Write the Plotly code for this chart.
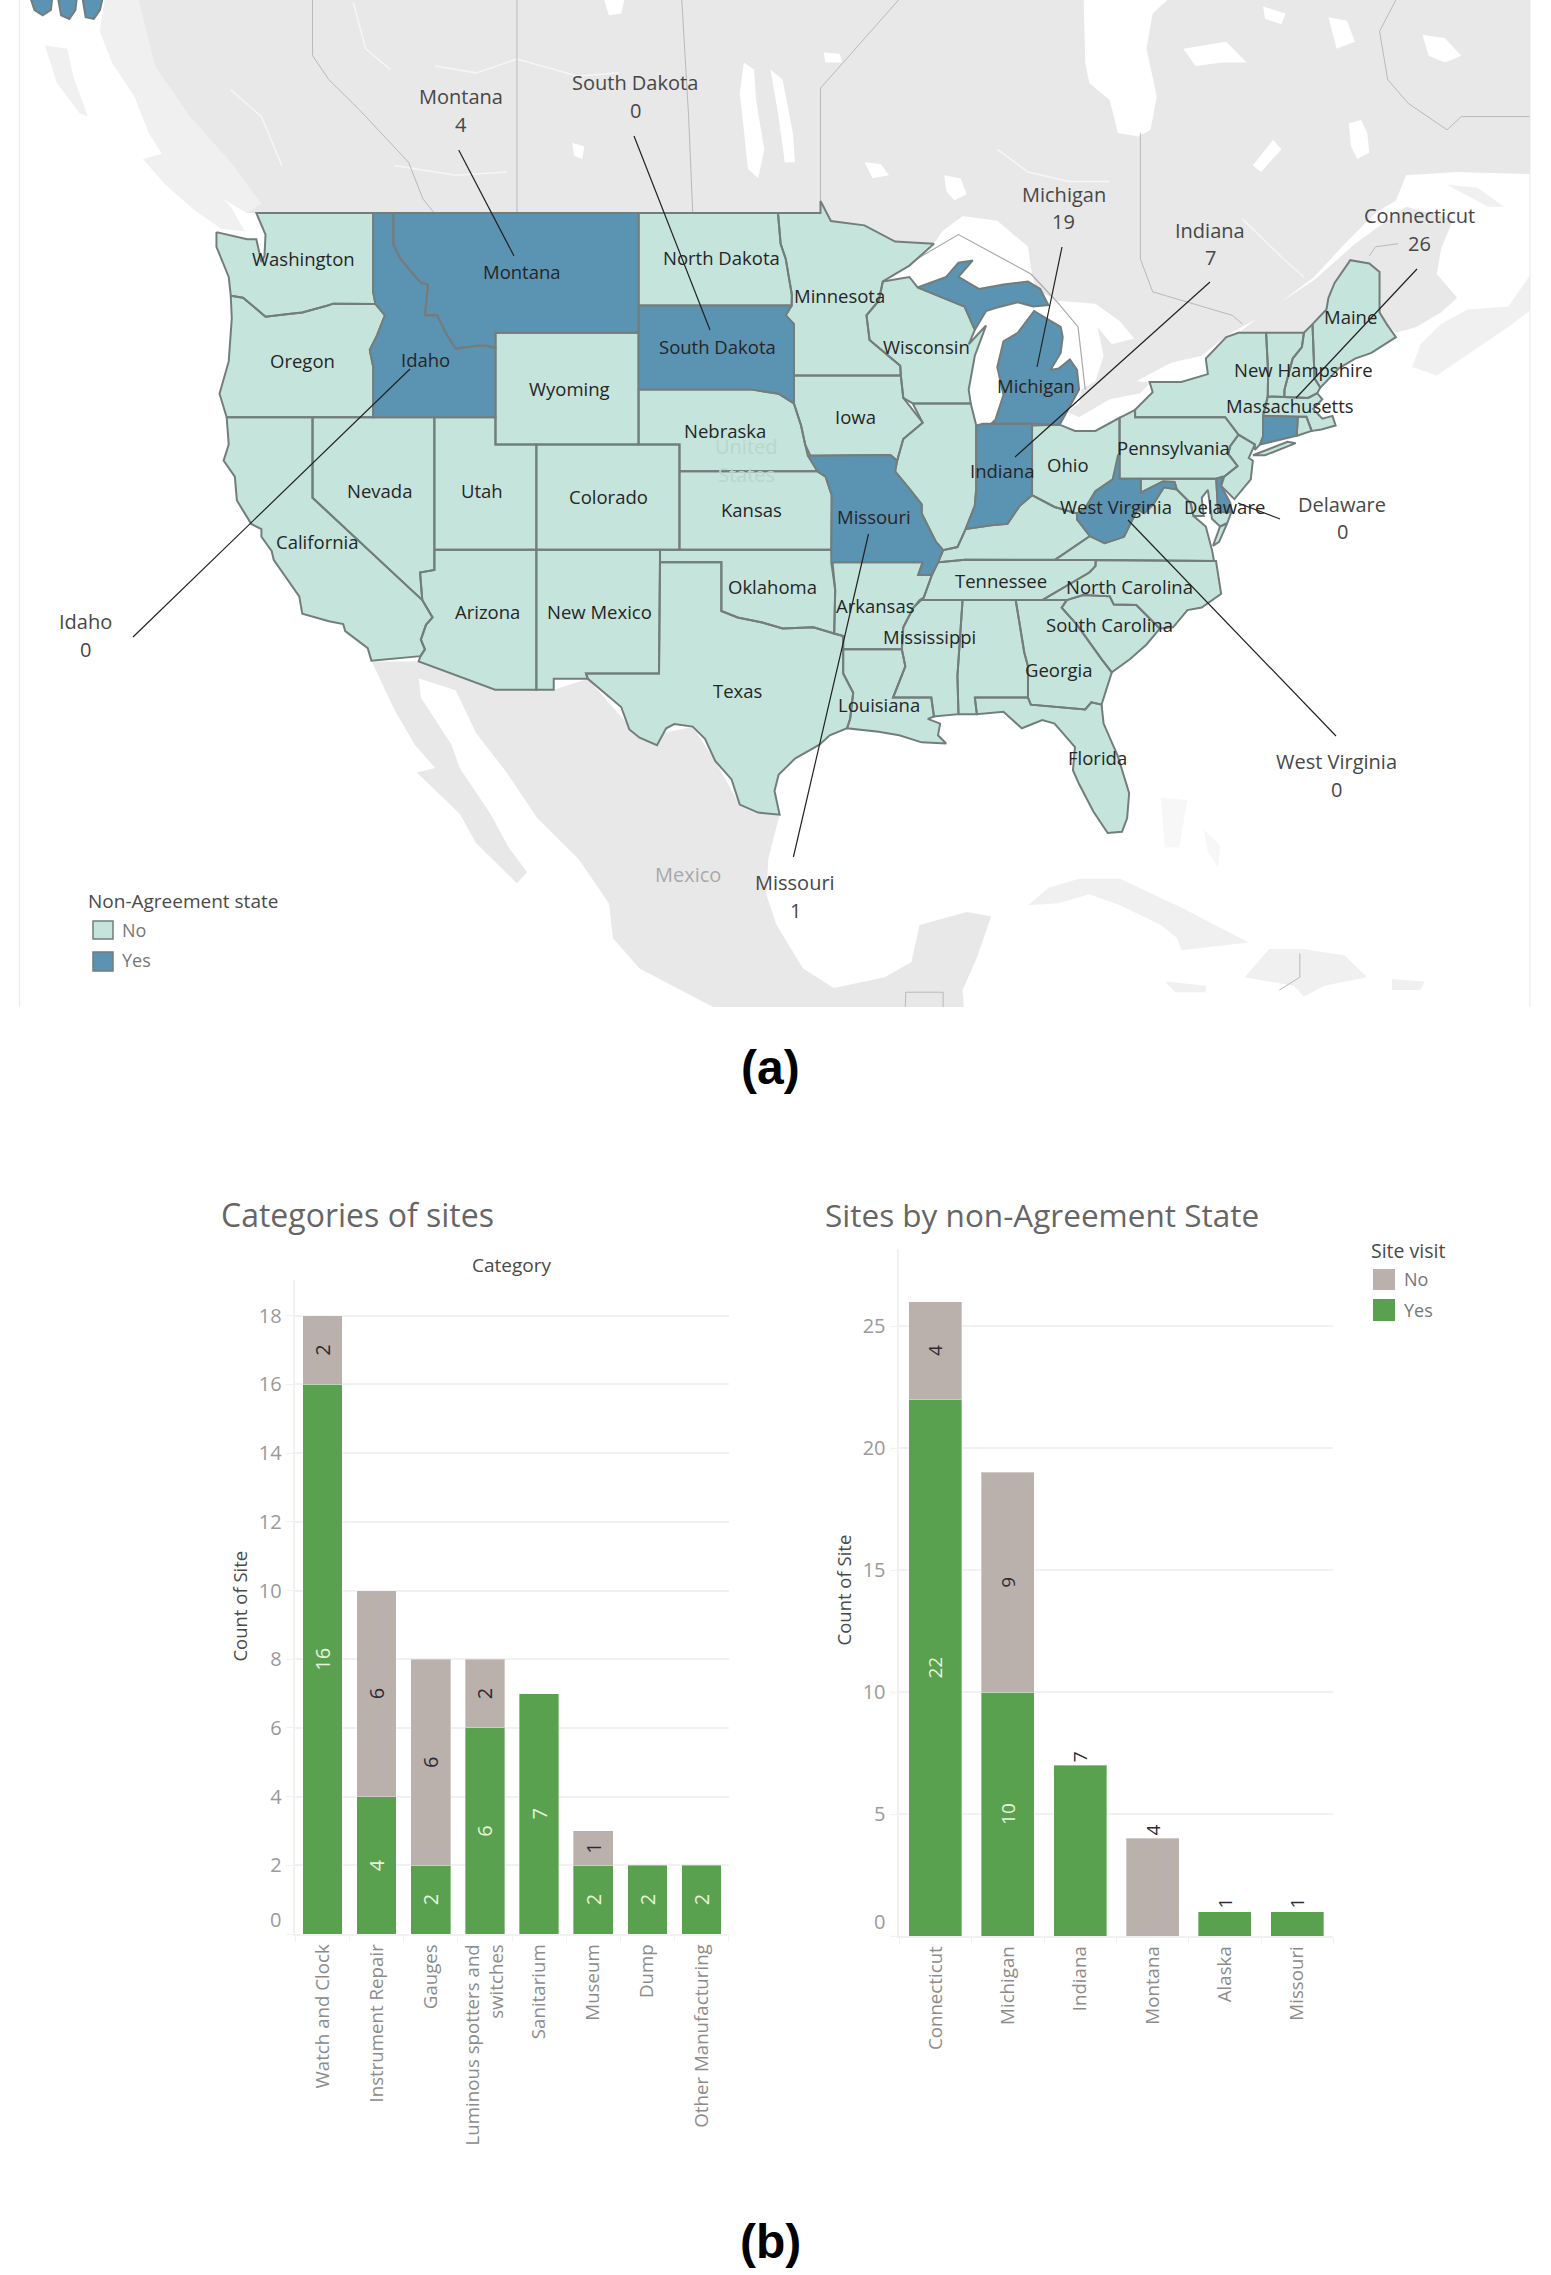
import numpy as np
import plotly.graph_objects as go

# ---------------------------------------------------------------- chart data
CATEGORIES = ["Watch and Clock", "Instrument Repair", "Gauges",
              "Luminous spotters and<br>switches", "Sanitarium", "Museum",
              "Dump", "Other Manufacturing"]
CATEGORY_VISITED = [16, 4, 2, 6, 7, 2, 2, 2]
CATEGORY_NOT_VISITED = [2, 6, 6, 2, None, 1, None, None]

SITE_STATES = ["Connecticut", "Michigan", "Indiana", "Montana", "Alaska", "Missouri"]
STATE_VISITED = [22, 10, 7, None, 1, 1]
STATE_NOT_VISITED = [4, 9, None, 4, None, None]

CALLOUT_STATES = ["Montana", "South Dakota", "Idaho", "Michigan", "Indiana",
                  "Connecticut", "Delaware", "West Virginia", "Missouri"]
CALLOUT_COUNTS = [4, 0, 0, 19, 7, 26, 0, 0, 1]

NON_AGREEMENT = ["Montana", "Idaho", "South Dakota", "Missouri", "Indiana",
                 "Michigan", "West Virginia", "Connecticut", "Delaware"]

# ---------------------------------------------------------------- geography (lon, lat)
STATES = {
    "Washington": [(-124.7,48.38),(-123.2,48.15),(-122.75,48.15),(-122.5,47.4),(-122.35,47.6),(-122.3,48.3),(-122.75,49.0),(-117.03,49.0),(-117.04,46.42),(-116.92,45.99),(-118.98,46.0),(-119.3,45.93),(-120.5,45.7),(-121.2,45.65),(-122.3,45.55),(-122.8,45.85),(-123.4,46.2),(-124.0,46.27),(-124.1,46.9),(-124.7,47.9)],
    "Oregon": [(-124.0,46.27),(-123.4,46.2),(-122.8,45.85),(-122.3,45.55),(-121.2,45.65),(-120.5,45.7),(-119.3,45.93),(-118.98,46.0),(-116.92,45.99),(-116.46,45.6),(-116.85,44.9),(-117.2,44.4),(-117.03,43.8),(-117.03,42.0),(-124.2,42.0),(-124.55,42.85),(-124.1,44.0),(-123.95,45.5)],
    "California": [(-124.2,42.0),(-120.0,42.0),(-120.0,39.0),(-114.63,35.0),(-114.13,34.3),(-114.45,34.0),(-114.7,33.4),(-114.5,33.0),(-114.72,32.72),(-117.12,32.53),(-117.3,33.05),(-118.4,33.75),(-118.5,34.03),(-119.2,34.15),(-120.5,34.45),(-120.65,35.15),(-121.9,36.6),(-122.0,36.95),(-122.5,37.5),(-122.5,37.8),(-123.0,38.0),(-123.7,38.9),(-123.8,39.8),(-124.35,40.4),(-124.1,41.0)],
    "Nevada": [(-120,42),(-114.04,42),(-114.04,36.2),(-114.74,36.1),(-114.63,35.0),(-120,39)],
    "Idaho": [(-117.03,49),(-116.05,49),(-116.05,48.0),(-115.7,47.5),(-114.7,46.7),(-114.35,46.65),(-114.5,45.6),(-113.9,45.6),(-113.45,44.95),(-113,44.45),(-112,44.55),(-111.5,44.55),(-111.05,44.47),(-111.05,42),(-117.03,42),(-117.03,43.8),(-117.2,44.4),(-116.85,44.9),(-116.46,45.6),(-116.92,45.99),(-117.04,46.42)],
    "Montana": [(-116.05,49),(-104.05,49),(-104.05,45),(-111.05,45),(-111.05,44.47),(-111.5,44.55),(-112,44.55),(-113,44.45),(-113.45,44.95),(-113.9,45.6),(-114.5,45.6),(-114.35,46.65),(-114.7,46.7),(-115.7,47.5),(-116.05,48)],
    "Wyoming": [(-111.05,45),(-104.05,45),(-104.05,41),(-111.05,41)],
    "Utah": [(-114.04,42),(-111.05,42),(-111.05,41),(-109.05,41),(-109.05,37),(-114.04,37)],
    "Colorado": [(-109.05,41),(-102.05,41),(-102.05,37),(-109.05,37)],
    "Arizona": [(-114.04,37),(-109.05,37),(-109.05,31.33),(-111.07,31.33),(-114.81,32.5),(-114.72,32.72),(-114.5,33),(-114.7,33.4),(-114.45,34),(-114.13,34.3),(-114.63,35),(-114.74,36.1),(-114.04,36.2)],
    "New Mexico": [(-109.05,37),(-103,37),(-103.05,32),(-106.62,32),(-106.53,31.78),(-108.2,31.78),(-108.2,31.33),(-109.05,31.33)],
    "North Dakota": [(-104.05,49),(-97.23,49),(-97.1,48),(-96.85,47.5),(-96.55,46.3),(-96.56,45.94),(-104.05,45.94)],
    "South Dakota": [(-104.05,45.94),(-96.56,45.94),(-96.85,45.6),(-96.45,45.3),(-96.45,42.5),(-97.2,42.85),(-98.5,43.0),(-104.05,43)],
    "Nebraska": [(-104.05,43),(-98.5,43),(-97.2,42.85),(-96.45,42.5),(-96.1,41.7),(-95.9,41.0),(-95.3,40),(-102.05,40),(-102.05,41),(-104.05,41)],
    "Kansas": [(-102.05,40),(-95.3,40),(-94.9,39.8),(-94.6,39.1),(-94.62,37),(-102.05,37)],
    "Oklahoma": [(-103,37),(-94.62,37),(-94.43,35.4),(-94.48,33.64),(-95.5,33.9),(-97,33.85),(-98,34.1),(-99.2,34.3),(-100,34.56),(-100,36.5),(-103,36.5)],
    "Texas": [(-103,36.5),(-100,36.5),(-100,34.56),(-99.2,34.3),(-98,34.1),(-97,33.85),(-95.5,33.9),(-94.48,33.64),(-94.04,33.55),(-94.04,33),(-94.04,32),(-93.55,31.2),(-93.7,30.1),(-93.85,29.7),(-94.7,29.4),(-95.2,29),(-96.4,28.4),(-97.2,27.7),(-97.4,27),(-97.15,25.96),(-98.2,26.05),(-99.1,26.4),(-99.5,27.5),(-100.3,28.3),(-100.8,29.25),(-101.4,29.77),(-102.3,29.88),(-102.7,29.7),(-103.15,28.98),(-104.0,29.3),(-104.5,29.65),(-104.9,30.6),(-106.53,31.78),(-106.62,32),(-103.05,32)],
    "Minnesota": [(-97.23,49),(-95.15,49),(-95.15,49.38),(-94.64,48.74),(-93,48.6),(-91.5,48.07),(-89.6,48.0),(-90.8,47.28),(-92.1,46.75),(-92.3,46.1),(-92.9,45.6),(-92.75,44.75),(-91.25,43.85),(-91.22,43.5),(-96.45,43.5),(-96.45,45.3),(-96.85,45.6),(-96.56,45.94),(-96.55,46.3),(-96.85,47.5),(-97.1,48)],
    "Iowa": [(-96.45,43.5),(-91.22,43.5),(-91.1,42.7),(-90.15,41.8),(-91.1,41.2),(-91.4,40.4),(-91.73,40.61),(-95.77,40.58),(-95.9,41),(-96.1,41.7),(-96.45,42.5)],
    "Missouri": [(-95.77,40.58),(-91.73,40.61),(-91.4,40.4),(-91.5,40),(-90.75,39.3),(-90.2,38.75),(-90.2,38.4),(-89.5,37.3),(-89.15,36.98),(-89.4,36.5),(-89.7,36.0),(-90.37,36.0),(-90.15,36.5),(-94.62,36.5),(-94.62,37),(-94.6,39.1),(-94.9,39.8),(-95.3,40)],
    "Arkansas": [(-94.62,36.5),(-90.15,36.5),(-90.37,36.0),(-89.7,36.0),(-90.1,35.1),(-90.6,34.7),(-91.1,33.9),(-91.17,33.0),(-94.04,33),(-94.04,33.55),(-94.48,33.64),(-94.43,35.4)],
    "Louisiana": [(-94.04,33),(-91.17,33),(-91.0,32.3),(-91.6,31.0),(-89.73,31),(-89.6,30.2),(-89.9,30.1),(-89.3,29.9),(-89.4,29.4),(-89,29.05),(-90.2,29.1),(-91.3,29.4),(-92.3,29.55),(-93.85,29.7),(-93.7,30.1),(-93.55,31.2),(-94.04,32)],
    "Wisconsin": [(-92.1,46.75),(-90.8,46.9),(-90.4,46.55),(-88.1,45.9),(-87.6,45.1),(-87.9,44.6),(-87.05,45.25),(-87.6,44.2),(-87.9,43),(-87.8,42.5),(-90.64,42.5),(-91.1,42.7),(-91.22,43.5),(-91.25,43.85),(-92.75,44.75),(-92.9,45.6),(-92.3,46.1)],
    "Illinois": [(-90.64,42.5),(-87.8,42.5),(-87.53,41.7),(-87.53,39.35),(-87.6,38.7),(-88.05,37.8),(-88.45,37.1),(-89.15,36.98),(-89.5,37.3),(-90.2,38.4),(-90.2,38.75),(-90.75,39.3),(-91.5,40),(-91.4,40.4),(-91.1,41.2),(-90.15,41.8)],
    "Indiana": [(-87.53,41.7),(-87.2,41.76),(-84.8,41.76),(-84.8,39.1),(-85.4,38.7),(-86,38),(-86.8,37.95),(-88.05,37.8),(-87.6,38.7),(-87.53,39.35)],
    "Ohio": [(-84.8,41.7),(-83.45,41.73),(-82.7,41.5),(-81.7,41.5),(-80.52,41.98),(-80.52,40.64),(-80.85,39.7),(-81.7,39.25),(-82.2,38.6),(-82.6,38.4),(-83.7,38.65),(-84.8,39.1)],
    "Kentucky": [(-89.15,36.98),(-88.45,37.1),(-88.05,37.8),(-86.8,37.95),(-86,38),(-85.4,38.7),(-84.8,39.1),(-83.7,38.65),(-82.6,38.4),(-82.6,38.17),(-81.97,37.53),(-83.68,36.6),(-88.07,36.6),(-89.4,36.5)],
    "Tennessee": [(-89.7,36),(-89.4,36.5),(-88.07,36.6),(-83.68,36.6),(-81.68,36.59),(-81.7,36.35),(-82,36.1),(-84.3,35.0),(-90.3,35),(-90.1,35.1)],
    "Mississippi": [(-91.17,33),(-91.1,33.9),(-90.6,34.7),(-90.3,35),(-88.2,35),(-88.45,31.9),(-88.4,30.3),(-89.6,30.2),(-89.73,31),(-91.6,31),(-91,32.3)],
    "Alabama": [(-88.2,35),(-85.6,35),(-85.18,32.87),(-85,32.3),(-85,31),(-87.6,31),(-87.5,30.3),(-88.4,30.3),(-88.45,31.9)],
    "Georgia": [(-85.6,35),(-83.1,35),(-83.35,34.7),(-82.6,34),(-81.4,32.6),(-80.9,32.05),(-81.4,30.7),(-81.9,30.8),(-82.2,30.5),(-84.86,30.7),(-85,31),(-85,32.3),(-85.18,32.87)],
    "Florida": [(-87.6,31),(-85,31),(-84.86,30.7),(-82.2,30.5),(-81.9,30.8),(-81.4,30.7),(-81.3,29.9),(-80.6,28.5),(-80.05,26.9),(-80.15,25.8),(-80.4,25.2),(-81.1,25.15),(-81.8,26.1),(-82.5,27.3),(-82.8,27.9),(-82.7,28.9),(-83.7,29.9),(-84.3,30.05),(-85.3,29.7),(-86.2,30.4),(-87.5,30.3)],
    "South Carolina": [(-83.1,35),(-82.3,35.2),(-81,35.15),(-80.8,34.82),(-79.7,34.8),(-78.55,33.85),(-79.2,33.2),(-80.0,32.6),(-80.9,32.05),(-81.4,32.6),(-82.6,34),(-83.35,34.7)],
    "North Carolina": [(-84.3,35),(-83.1,35),(-82.3,35.2),(-81,35.15),(-80.8,34.82),(-79.7,34.8),(-78.55,33.85),(-77.9,33.9),(-77.2,34.6),(-76.5,34.7),(-75.55,35.25),(-75.8,36.55),(-81.68,36.59),(-81.7,36.35),(-82,36.1)],
    "Virginia": [(-83.68,36.6),(-81.68,36.59),(-75.9,36.55),(-76,37),(-76.3,37.9),(-76.9,38.3),(-77.05,38.8),(-77.72,39.32),(-78.35,39.4),(-78.87,38.76),(-79.3,38.42),(-79.65,38.55),(-80.3,37.5),(-81.25,37.25),(-81.97,37.53)],
    "Virginia Eastern Shore": [(-75.95,37.15),(-75.6,37.9),(-75.25,38.03),(-75.65,37.3)],
    "West Virginia": [(-82.6,38.17),(-82.6,38.4),(-82.2,38.6),(-81.7,39.25),(-80.85,39.7),(-80.6,40.6),(-80.52,40.64),(-80.52,39.72),(-79.48,39.72),(-79.48,39.2),(-78.4,39.62),(-77.83,39.6),(-77.72,39.32),(-78.35,39.4),(-78.87,38.76),(-79.3,38.42),(-79.65,38.55),(-80.3,37.5),(-81.25,37.25),(-81.97,37.53)],
    "Maryland": [(-79.48,39.72),(-75.79,39.72),(-75.7,38.46),(-75.05,38.45),(-75.25,38.03),(-75.6,37.9),(-76.0,38.2),(-76.2,39.3),(-76.5,39),(-76.4,38.3),(-76.9,38.3),(-77.05,38.8),(-77.72,39.32),(-77.83,39.6),(-78.4,39.62),(-79.48,39.2)],
    "Delaware": [(-75.79,39.72),(-75.5,39.8),(-75.55,39.45),(-75.1,38.8),(-75.05,38.45),(-75.7,38.46)],
    "Pennsylvania": [(-80.52,41.98),(-79.76,42.27),(-79.76,42),(-75.35,42),(-74.7,41.36),(-75.1,40.95),(-75.2,40.65),(-74.75,40.2),(-75.4,39.8),(-75.79,39.72),(-80.52,39.72)],
    "New Jersey": [(-74.7,41.36),(-73.9,41.0),(-74.2,40.5),(-74.0,40.4),(-74.1,39.7),(-74.9,38.95),(-75.55,39.45),(-75.4,39.8),(-74.75,40.2),(-75.2,40.65),(-75.1,40.95)],
    "New York": [(-79.76,42.27),(-78.9,42.9),(-79.05,43.27),(-77.5,43.27),(-76.2,43.55),(-76.3,44.1),(-75.3,44.85),(-74.7,45),(-73.35,45),(-73.25,43.6),(-73.27,42.75),(-73.5,42.05),(-73.5,41.3),(-73.65,41),(-73.9,40.8),(-73.9,41),(-74.7,41.36),(-75.35,42),(-79.76,42)],
    "Long Island": [(-74,40.6),(-72.3,41.1),(-71.9,41.05),(-73.4,40.6)],
    "Vermont": [(-73.35,45),(-71.5,45.0),(-71.6,44.5),(-72.05,44.1),(-72.45,43),(-72.46,42.73),(-73.27,42.75),(-73.25,43.6)],
    "New Hampshire": [(-71.5,45.0),(-71.08,45.3),(-70.98,43.4),(-70.7,43.07),(-70.85,42.87),(-71.3,42.7),(-72.46,42.73),(-72.45,43),(-72.05,44.1),(-71.6,44.5)],
    "Maine": [(-71.08,45.3),(-70.4,45.8),(-70.3,46.2),(-70,46.7),(-69.23,47.46),(-68.3,47.35),(-67.8,47.07),(-67.8,45.7),(-67.45,45.3),(-67,44.85),(-68.2,44.3),(-69,44.1),(-69.8,43.75),(-70.7,43.07),(-70.98,43.4)],
    "Massachusetts": [(-73.5,42.05),(-73.27,42.75),(-72.46,42.73),(-71.3,42.7),(-70.85,42.87),(-70.6,42.65),(-71.05,42.3),(-70.6,41.95),(-70.1,42.05),(-69.95,41.7),(-70.65,41.55),(-71.12,41.5),(-71.38,42.02),(-71.8,42.02)],
    "Rhode Island": [(-71.8,42.02),(-71.38,42.02),(-71.12,41.5),(-71.85,41.32)],
    "Connecticut": [(-73.5,42.05),(-71.8,42.02),(-71.85,41.32),(-73.65,41),(-73.5,41.3)],
    "Michigan": [(-86.8,41.76),(-84.8,41.76),(-83.45,41.73),(-83.1,42.2),(-82.5,43),(-82.6,43.7),(-82.95,44.07),(-83.5,43.75),(-83.9,43.7),(-83.4,44.3),(-83.3,44.85),(-83.4,45.2),(-84.7,45.75),(-85.5,45),(-86.2,44.7),(-86.5,43.8),(-86.2,42.8),(-86.6,41.9)],
    "Michigan Upper Peninsula": [(-90.4,46.55),(-89.0,46.9),(-88.4,47.38),(-87.7,47.45),(-88.4,46.9),(-87.4,46.5),(-86.2,46.65),(-85,46.75),(-84.4,46.5),(-84,45.95),(-84.75,45.9),(-85.5,46.05),(-86.6,45.85),(-87.05,45.75),(-87.6,45.1),(-88.1,45.9)],
}

ALASKA_ISLANDS = [
    [(-133.9,55.6),(-133.6,55.1),(-133.2,54.95),(-132.8,55.1),(-132.7,55.6)],
    [(-132.5,55.6),(-132.3,54.95),(-131.9,54.85),(-131.6,55.1),(-131.5,55.6)],
    [(-131.3,55.6),(-131.1,54.9),(-130.7,54.85),(-130.4,55.1),(-130.2,55.6)],
]

NEIGHBOUR_LAND = [
    # western Canada, the Ontario peninsula and the north shore of the St Lawrence
    [(-123.2,49.0),(-95.15,49.0),(-95.15,49.38),(-94.64,48.74),(-93,48.6),(-91.5,48.07),(-89.6,48.0),(-89.2,48.4),(-88.2,48.9),(-86.5,48.75),(-85,47.9),(-84.8,47),(-84.6,46.5),(-83.6,46.1),(-81.7,46.0),(-80.5,45.4),(-79.8,44.8),(-80.9,44.6),(-81.6,45.2),(-81.3,44.2),(-81.7,43.3),(-82.4,43.0),(-82.5,42.5),(-83.1,42.2),(-82.5,42),(-81,42.65),(-79.5,42.87),(-79.0,43.25),(-79.7,43.3),(-78,43.95),(-76.5,44.2),(-75.3,44.9),(-73.5,45.6),(-71,46.9),(-69.5,48),(-68,49),(-67,49.4),(-66.5,50.2),(-64,50.3),(-59,50.2),(-59,57),(-130.1,57),(-130.1,55.6),(-130.4,54.5),(-129.8,53.6),(-128.7,52.6),(-128,51.5),(-127.3,50.8),(-125.5,50),(-124.5,49.5)],
    # south shore of the St Lawrence and New Brunswick
    [(-74.7,45),(-71.5,45),(-71.08,45.3),(-70.4,45.8),(-70.3,46.2),(-70,46.7),(-69.23,47.46),(-68.3,47.35),(-67.8,47.07),(-67.8,45.7),(-67.45,45.3),(-67,45),(-66,45.2),(-64.8,45.7),(-64,46.2),(-65,47),(-64.8,47.8),(-64.2,48.8),(-66.5,49.2),(-69,48),(-71,46.8),(-73.5,45.65)],
    # Mexico and Central America
    [(-117.1,32.5),(-116,30.5),(-115,29),(-114,28),(-114.9,27.8),(-112.8,26),(-112,24.7),(-110,22.9),(-109.5,23.4),(-110.4,24.5),(-111.3,26),(-112.8,28),(-113.2,29),(-114.7,31),(-114.8,31.8),(-113,31.3),(-112,29.5),(-110.5,27.8),(-109,25.8),(-107,24),(-105.5,22),(-105.3,20.4),(-104,19),(-102,18),(-100,17),(-98,16),(-94.5,16),(-90,14),(-88,15.5),(-88.2,18),(-87.5,19.5),(-86.8,21.4),(-88,21.6),(-90.3,21),(-90.7,19.3),(-92,18.6),(-94.5,18.1),(-96,19),(-97.3,21),(-97.8,22.4),(-97.7,24),(-97.15,25.96),(-99.1,26.4),(-100.3,28.3),(-101.4,29.77),(-104,29.3),(-106.53,31.78),(-108.2,31.33),(-111.07,31.33),(-114.81,32.5)],
]

# the outer coast and islands read paler than the interior
PALE_LAND = [
    [(-130.1,55.6),(-128.6,55.6),(-127.7,53.5),(-126,52),(-124,50.6),(-122.5,49.3),(-123.2,49),(-124.5,49.5),(-125.5,50),(-127.3,50.8),(-128,51.5),(-128.7,52.6),(-129.8,53.6),(-130.4,54.5)],
    [(-133.1,54.1),(-132,54.0),(-131.7,53.2),(-131,52),(-131.4,52.1),(-132.5,53)],
    [(-128.3,50.7),(-127.2,50.9),(-125.5,50.2),(-124,49.2),(-123.3,48.4),(-124.5,48.5),(-125.8,49.1),(-127.2,49.9)],
    [(-66.2,43.8),(-65,43.5),(-61.5,45.2),(-60,46),(-60.4,47),(-61.5,45.9),(-63.5,45.8),(-64.8,45.3),(-65.8,44.6)],
    [(-64.5,49.9),(-63,49.8),(-61.7,49.2),(-62.5,49.2)],
    [(-59.3,47.6),(-59,48.5),(-58,50),(-56,51.5),(-55,50),(-53,47),(-55,46.8)],
    [(-85,21.9),(-84,22.7),(-82.5,23.1),(-80.5,23.1),(-77.5,21.8),(-75,20.6),(-74.2,20.2),(-77.5,19.85),(-77.7,20.4),(-78.5,21),(-80.5,21.9),(-82,22.4),(-83.5,22)],
    [(-74.4,18.6),(-73.2,19.9),(-71.5,19.9),(-69.5,19.6),(-68.4,18.6),(-70.5,18.2),(-71.5,17.7),(-72,18.2)],
    [(-78.3,18.4),(-76.3,18.2),(-76.3,17.9),(-77.8,17.9)],
    [(-67.2,18.5),(-65.6,18.4),(-65.8,18),(-67.2,18)],
]

FAINT_LAND = [
    [(-78.5,26.7),(-77.2,26.6),(-77.6,24.5),(-78.3,24.5)],
    [(-76.4,25.3),(-75.6,24.6),(-75.7,23.6),(-76.2,24.3)],
]

INLAND_WATER = [
    [(-82.3,56),(-82.2,53.6),(-82,53),(-81,52.5),(-80.6,51.5),(-79.6,51.4),(-79,51.6),(-78.7,52.6),(-79.2,54),(-78.9,55),(-77,56)],
    [(-98.9,53.6),(-98.4,53.4),(-98.3,52.5),(-97.9,51),(-98.2,50.1),(-98.7,50.4),(-98.9,51.6),(-99.1,52.7)],
    [(-97.6,53.4),(-97,53.1),(-96.5,51.5),(-96.4,50.6),(-96.9,50.6),(-97.2,52)],
    [(-89.1,50.2),(-88.3,50.1),(-88,49.6),(-88.6,49.4),(-89,49.7)],
    [(-73,51.3),(-72.6,51),(-73.6,50.3),(-74,50.5)],
    [(-69.3,51.8),(-68.7,51.9),(-68.4,51.5),(-68.3,50.9),(-68.9,50.7),(-69.2,51.1)],
    [(-77.4,54),(-75.3,54.2),(-74.3,53.6),(-75.5,53.6),(-76.8,53.5)],
    [(-73.5,55.2),(-72.4,55),(-72.6,54.7),(-73.4,54.85)],
    [(-70.3,54.9),(-69.4,54.8),(-69,54.2),(-69.9,54)],
    [(-65.7,54.4),(-64.6,54.3),(-63.8,53.8),(-64.6,53.6),(-65.4,53.8)],
    [(-95,53.9),(-94.2,53.85),(-94.1,53.6),(-94.9,53.6)],
    [(-93,50.6),(-92.2,50.55),(-91.8,50.2),(-92.6,50.1)],
    [(-107.3,51.2),(-106.7,51.1),(-106.8,50.7),(-107.2,50.8)],
    [(-105.8,55.5),(-104.7,55.5),(-104.9,55),(-105.5,54.95)],
]

WHITE_RIVERS = [
    [(-114,53.5),(-112,53.3),(-110,53.7),(-107,53.2),(-105,53.3)],
    [(-116,50.5),(-113,50.2),(-110.5,50.3)],
    [(-118,55.3),(-117.4,54),(-116.2,53.4)],
    [(-124,52.8),(-122.5,52),(-121.5,50.5)],
    [(-86.5,51),(-85,50.3),(-83,50),(-81,50)],
    [(-74.5,48.8),(-72.5,47.5),(-71.5,46.9)],
]

PROVINCE_LINES = [
    [(-120,56),(-120,53.8),(-119.2,53.1),(-117.7,52.2),(-115.3,50.6),(-114.6,49.45),(-114.05,49)],
    [(-110,56),(-110,49)],
    [(-102,56),(-101.6,52),(-101.4,49)],
    [(-89,56.85),(-95.15,52.85),(-95.15,49.38)],
    [(-79.5,51.5),(-79.5,47.5),(-78.9,46.4),(-77,46),(-75,45.6),(-74.5,45.3)],
    [(-66.8,55.6),(-67.8,54.5),(-67.4,53.1),(-66.4,52.4),(-64.5,51.6),(-63.8,52),(-59,52)],
    [(-66.9,48),(-68,47.9),(-68.3,47.6)],
    [(-72.7,18),(-71.7,18.6),(-71.7,19.7)],
    [(-89.15,17.2),(-89.15,17.9),(-90.98,17.9),(-91,17.2)],
]

WATER_BOUNDARY = [(-92.05,46.86),(-88.4,48.3),(-84.85,47),(-83.5,46),(-82.55,45.2),(-82.2,43)]

# ---------------------------------------------------------------- page layout
W, H = 1551, 2275
MAP_LEFT, MAP_RIGHT, MAP_BOTTOM = 19.4, 1530, 1007
MAP_LON_RANGE = [-134.34, -60.44]
MAP_LAT_RANGE = [17.21, 55.38]

MAP_LABEL_ANCHORS = {
    "Washington": (303.5,260), "Oregon": (302,362), "Montana": (522,273), "Idaho": (425,361),
    "Wyoming": (569,390), "North Dakota": (721,259), "South Dakota": (717,348), "Nebraska": (725,432),
    "Nevada": (379,492), "Utah": (482,492), "Colorado": (608,498), "Kansas": (751,511),
    "California": (317,543), "Arizona": (487,613), "New Mexico": (599,613), "Oklahoma": (772,588),
    "Texas": (737,692), "Minnesota": (839,297), "Wisconsin": (926,348), "Michigan": (1036,387),
    "Iowa": (855,418), "Indiana": (1002,472), "Ohio": (1067.5,466), "Pennsylvania": (1173,449),
    "New Hampshire": (1303,371), "Maine": (1350,318), "Massachusetts": (1290,407),
    "West Virginia": (1116,508), "Delaware": (1224,508), "Missouri": (873.5,518),
    "Arkansas": (875.5,607), "Tennessee": (1001,582), "North Carolina": (1129,588),
    "South Carolina": (1109,626), "Mississippi": (930,638), "Georgia": (1059,671),
    "Louisiana": (878.5,706), "Florida": (1097,759),
}
CALLOUT_ANCHORS = {
    "Montana": (461,98,126), "South Dakota": (635,84,112), "Idaho": (85.6,623,651),
    "Michigan": (1063.5,196,223), "Indiana": (1210,232,259), "Connecticut": (1419,217,245),
    "Delaware": (1342,506,533), "West Virginia": (1336,763,791), "Missouri": (795,884,912),
}
LEADER_ENDS = {
    "Montana": ((458.7,150),(514,256)), "South Dakota": ((634,136),(710,330)),
    "Idaho": ((410,369),(133,637)), "Michigan": ((1062,247),(1037,367)),
    "Indiana": ((1210,282),(1015,457)), "Connecticut": ((1417,269),(1296,398)),
    "Delaware": ((1238,503),(1280,519)), "West Virginia": ((1128,520),(1336,736)),
    "Missouri": ((868.5,534),(793.4,857)),
}

COL_NO, COL_YES = "#c5e4dc", "#5b93b3"
COL_BORDER = "#737e7c"
COL_LAND, COL_PALE, COL_FAINT = "#e8e8e8", "#f0f0f0", "#f7f7f7"
COL_VISIT, COL_NOVISIT = "#59a14f", "#bab0ac"
SANS = "Open Sans, sans-serif"


def fx(x):
    return x / W


def fy(y):
    return 1 - y / H


def merc(lat):
    return np.degrees(np.arcsinh(np.tan(np.radians(lat))))


def ring_xy(rings):
    """Flatten closed lon/lat rings to projected x, y lists with None breaks."""
    xs, ys = [], []
    for ring in rings:
        pts = list(ring) + [ring[0]]
        xs += [p[0] for p in pts] + [None]
        ys += [float(merc(p[1])) for p in pts] + [None]
    return xs, ys


def line_xy(paths):
    xs, ys = [], []
    for path in paths:
        xs += [p[0] for p in path] + [None]
        ys += [float(merc(p[1])) for p in path] + [None]
    return xs, ys


def map_trace(x, y, fill=None, line=None, width=0):
    return go.Scatter(
        x=x, y=y, mode="lines", xaxis="x3", yaxis="y3", hoverinfo="skip",
        showlegend=False, fill="toself" if fill else "none", fillcolor=fill,
        line=dict(color=line or "rgba(0,0,0,0)", width=width),
    )


fig = go.Figure()

# ---------------------------------------------------------------- map layers
fig.add_trace(map_trace(*ring_xy(NEIGHBOUR_LAND), fill=COL_LAND))
fig.add_trace(map_trace(*ring_xy(PALE_LAND), fill=COL_PALE))
fig.add_trace(map_trace(*ring_xy(FAINT_LAND), fill=COL_FAINT))
fig.add_trace(map_trace(*ring_xy(INLAND_WATER), fill="#ffffff"))
fig.add_trace(map_trace(*line_xy(WHITE_RIVERS), line="#f6f6f6", width=1.5))
fig.add_trace(map_trace(*line_xy(PROVINCE_LINES), line="#b9b9b9", width=1))
fig.add_trace(map_trace(*line_xy([WATER_BOUNDARY]), line="#a8a8a8", width=1.2))

yes_names = set(NON_AGREEMENT) | {"Michigan Upper Peninsula"}
fig.add_trace(map_trace(*ring_xy([v for k, v in STATES.items() if k not in yes_names]),
                        fill=COL_NO, line=COL_BORDER, width=2))
fig.add_trace(map_trace(*ring_xy([v for k, v in STATES.items() if k in yes_names] + ALASKA_ISLANDS),
                        fill=COL_YES, line=COL_BORDER, width=2))

# ---------------------------------------------------------------- bar panels


def bar_panel(cats, yes, no, xa, ya, text_size, outside_yes=(), outside_no=()):
    for vals, color, tcolor, name, outside in (
        (yes, COL_VISIT, "#e6f4dc", "Yes", outside_yes),
        (no, COL_NOVISIT, "#2f2a33", "No", outside_no),
    ):
        positions = ["outside" if i in outside else "inside" for i in range(len(cats))]
        colors = ["#2f2a33" if i in outside else tcolor for i in range(len(cats))]
        fig.add_trace(go.Bar(
            x=cats, y=vals, name=name, xaxis=xa, yaxis=ya, showlegend=False,
            marker=dict(color=color, line=dict(color="rgba(255,255,255,0.35)", width=1)),
            text=[None if v is None else str(v) for v in vals],
            textposition=positions, textangle=-90, insidetextanchor="middle",
            textfont=dict(family=SANS, size=text_size, color=colors),
            constraintext="none", cliponaxis=False, hoverinfo="skip",
        ))


bar_panel(CATEGORIES, CATEGORY_VISITED, CATEGORY_NOT_VISITED, "x", "y", 20)
bar_panel(SITE_STATES, STATE_VISITED, STATE_NOT_VISITED, "x2", "y2", 19,
          outside_yes=(2, 4, 5), outside_no=(3,))

GRID = "#f1f1f1"
TICK_FONT = dict(family=SANS, size=20, color="#9a9a9a")
CAT_FONT = dict(family=SANS, size=18.7, color="#8c8c8c")
VALUE_AXIS_TOP = {"x": 19.04, "x2": 28.16}


def cat_axis(domain, anchor):
    return dict(domain=[fx(domain[0]), fx(domain[1])], anchor=anchor, type="category",
                tickangle=-90, tickfont=CAT_FONT, ticks="outside", ticklen=6, tickcolor=GRID,
                tickson="boundaries", showline=True, linecolor=GRID, linewidth=1.5,
                showgrid=False, zeroline=False, ticklabelstandoff=1)


def val_axis(bottom, top, vmax, step, anchor):
    vals = list(range(0, vmax + 1, step))
    return dict(domain=[fy(bottom), fy(top)], anchor=anchor, range=[0, VALUE_AXIS_TOP[anchor]],
                tickvals=vals, ticktext=[""] + [str(v) for v in vals[1:]], tickfont=TICK_FONT,
                ticks="outside", ticklen=8, tickcolor=GRID, showline=True, linecolor=GRID,
                linewidth=1.5, showgrid=True, gridcolor=GRID, gridwidth=1.5, zeroline=False)


layout = dict(
    width=W, height=H, margin=dict(l=0, r=0, t=0, b=0), autosize=False,
    paper_bgcolor="#ffffff", plot_bgcolor="rgba(0,0,0,0)", barmode="stack", bargap=0.267,
    font=dict(family=SANS),
    xaxis=cat_axis((295.4, 728.6), "y"), yaxis=val_axis(1934, 1280, 18, 2, "x"),
    xaxis2=cat_axis((899.3, 1333.4), "y2"), yaxis2=val_axis(1936, 1249, 25, 5, "x2"),
    xaxis3=dict(domain=[fx(MAP_LEFT), fx(MAP_RIGHT)], range=MAP_LON_RANGE, anchor="y3",
                visible=False, fixedrange=True),
    yaxis3=dict(domain=[fy(MAP_BOTTOM), 1], range=[float(merc(MAP_LAT_RANGE[0])), float(merc(MAP_LAT_RANGE[1]))],
                anchor="x3", visible=False, fixedrange=True),
)

# ---------------------------------------------------------------- text and leaders
notes, shapes = [], []


def note(x, y, text, size, color, family=SANS, anchor="center", angle=0, bold=False):
    lift = 1.5 if family == SANS and angle == 0 else 0
    notes.append(dict(
        x=fx(x), y=fy(y - lift), xref="paper", yref="paper", text=f"<b>{text}</b>" if bold else text,
        showarrow=False, xanchor=anchor, yanchor="middle", textangle=angle,
        font=dict(family=family, size=size, color=color),
    ))


def box(x0, y0, x1, y1, fill, line=None):
    shapes.append(dict(type="rect", xref="paper", yref="paper",
                       x0=fx(x0), x1=fx(x1), y0=fy(y0), y1=fy(y1), fillcolor=fill,
                       line=dict(color=line or fill, width=1.5 if line else 0)))


# faint frame either side of the map
for x in (MAP_LEFT, MAP_RIGHT):
    shapes.append(dict(type="line", xref="paper", yref="paper", x0=fx(x), x1=fx(x),
                       y0=fy(0), y1=fy(MAP_BOTTOM), line=dict(color="#e9e9e9", width=1)))

for name, (p0, p1) in LEADER_ENDS.items():
    shapes.append(dict(type="line", xref="paper", yref="paper", x0=fx(p0[0]), y0=fy(p0[1]),
                       x1=fx(p1[0]), y1=fy(p1[1]), line=dict(color="#222222", width=1.2)))

for name, (x, y) in MAP_LABEL_ANCHORS.items():
    note(x, y, name, 18.5, "#262626")

note(746, 448, "United", 20, "#b5d8ce")
note(746, 476, "States", 20, "#b5d8ce")
note(687.5, 876, "Mexico", 20, "#a8a8a8")

for name, count in zip(CALLOUT_STATES, CALLOUT_COUNTS):
    x, y_name, y_count = CALLOUT_ANCHORS[name]
    note(x, y_name, name, 20, "#474747")
    note(x, y_count, str(count), 20, "#474747")

note(86, 903, "Non-Agreement state", 19, "#4a4a4a", anchor="left")
box(93, 921, 113, 939, COL_NO, COL_BORDER)
box(93, 952, 113, 971, COL_YES, COL_BORDER)
note(120, 931, "No", 18, "#777777", anchor="left")
note(120, 962, "Yes", 18, "#777777", anchor="left")

LIB_BOLD = "Liberation Sans, Arial, sans-serif"
note(770, 1067, "(a)", 48, "#000000", family=LIB_BOLD, bold=True)
note(770, 2241, "(b)", 48, "#000000", family=LIB_BOLD, bold=True)

note(219, 1216, "Categories of sites", 32, "#666666", anchor="left")
note(823, 1216, "Sites by non-Agreement State", 31.5, "#666666", anchor="left")
note(511, 1266, "Category", 19, "#4a4a4a")
note(238.6, 1606, "Count of Site", 18.5, "#4a4a4a", angle=-90)
note(842.5, 1590, "Count of Site", 18.5, "#4a4a4a", angle=-90)
note(283, 1921, "0", 20, "#9a9a9a", anchor="right")
note(887, 1922.6, "0", 20, "#9a9a9a", anchor="right")

note(1369, 1252, "Site visit", 19.5, "#4a4a4a", anchor="left")
box(1373, 1269, 1395, 1290, COL_NOVISIT)
box(1373, 1299, 1395, 1321, COL_VISIT)
note(1402, 1280, "No", 18, "#777777", anchor="left")
note(1402, 1311, "Yes", 18, "#777777", anchor="left")

layout["annotations"] = notes
layout["shapes"] = shapes
fig.update_layout(**layout)

fig.write_html("out.html", config=dict(displayModeBar=False, responsive=False))
